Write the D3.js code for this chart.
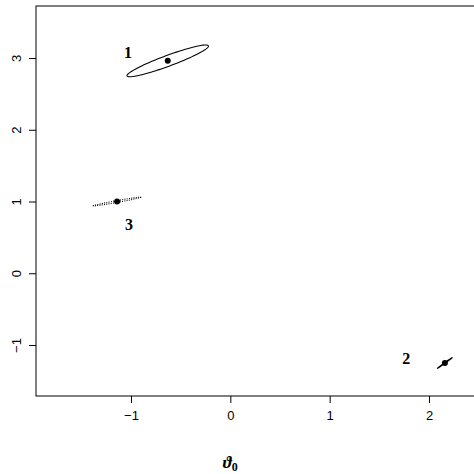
<!DOCTYPE html><html><head><script src="https://cdn.jsdelivr.net/npm/d3@7"></script>
<style>body{margin:0}</style></head><body><svg width="474" height="474"></svg><script>
const xTicks=[-1,0,1,2], yTicks=[-1,0,1,2,3];
const centers=[[-0.63,2.96],[2.16,-1.25],[-1.14,1.0]];
const majorV=[[0.41,0.21],[0.075,0.075],[0.24,0.06]];
const minorV=[[0.02,-0.07],[0.003,-0.003],[0.003,-0.012]];
const labels=["1","2","3"], labelPos=[[-1.03,3.08],[1.77,-1.19],[-1.02,0.68]];
const dashes=[null,null,"1,1.3"];
const svg=d3.select("svg");
const x=d3.scaleLinear().domain([-1,2]).range([131,429]);
const y=d3.scaleLinear().domain([-1,3]).range([345,58]);
const L=36,R=480,T=6,B=396;
svg.append("rect").attr("x",L).attr("y",T).attr("width",R-L).attr("height",B-T).attr("fill","none").attr("stroke","#000");
const fmt=d=>d<0?"\u2212"+(-d):d;
const gx=svg.append("g").attr("transform",`translate(0,${B})`).call(d3.axisBottom(x).tickValues(xTicks).tickSize(7).tickSizeOuter(0).tickFormat(fmt));
gx.select(".domain").remove();
gx.selectAll("text").attr("font-size",13).attr("font-family","Liberation Sans, Arial").attr("dy","1.1em");
const gy=svg.append("g").attr("transform",`translate(${L},0)`).call(d3.axisLeft(y).tickValues(yTicks).tickSize(7).tickSizeOuter(0).tickFormat(fmt));
gy.select(".domain").remove();
gy.selectAll(".tick text").attr("font-size",13).attr("font-family","Liberation Sans, Arial").attr("text-anchor","middle").attr("x",0).attr("y",0).attr("transform","translate(-20,0) rotate(-90)").attr("dy","0.35em");
const ang=d3.range(0,361,3).map(a=>a*Math.PI/180);
centers.forEach((c,i)=>{
  const line=d3.line().x(t=>x(c[0]+majorV[i][0]*Math.cos(t)+minorV[i][0]*Math.sin(t))).y(t=>y(c[1]+majorV[i][1]*Math.cos(t)+minorV[i][1]*Math.sin(t)));
  svg.append("path").attr("d",line(ang)).attr("fill","none").attr("stroke","#000").attr("stroke-width",1.1).attr("stroke-dasharray",dashes[i]);
  svg.append("circle").attr("cx",x(c[0])).attr("cy",y(c[1])).attr("r",3).attr("fill","#000");
  svg.append("text").attr("x",x(labelPos[i][0])).attr("y",y(labelPos[i][1])).attr("text-anchor","middle").attr("dy","0.35em").attr("font-family","Liberation Serif, serif").attr("font-weight","bold").attr("font-size",16).text(labels[i]);
});
svg.append("text").attr("x",x(0)).attr("y",468).attr("text-anchor","middle").attr("font-family","Liberation Serif, serif").attr("font-weight","bold").attr("font-style","italic").attr("font-size",17).text("\u03d1").append("tspan").attr("font-size",12).attr("dy",3).attr("font-style","normal").text("0");
</script></body></html>
